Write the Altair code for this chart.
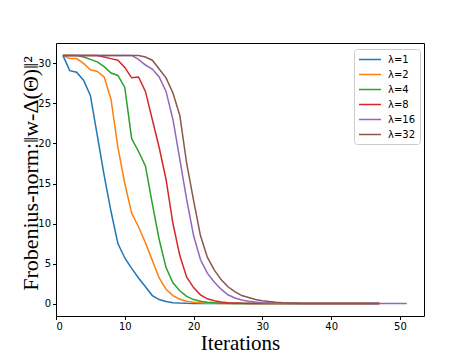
import altair as alt
import pandas as pd

labels = ["λ=1", "λ=2", "λ=4", "λ=8", "λ=16", "λ=32"]
colors = ["#1f77b4", "#ff7f0e", "#2ca02c", "#d62728", "#9467bd", "#8c564b"]

lam1 = [31, 29.1, 28.9, 27.9, 26.0, 21.0, 16.0, 11.5, 7.5, 5.7, 4.4, 3.2, 2.1, 1.0, 0.5, 0.25, 0.12, 0.06, 0.03, 0.02, 0.01]
lam2 = [31, 30.6, 30.6, 30.0, 29.2, 29.0, 28.3, 25.5, 19.5, 15.0, 11.3, 9.6, 7.6, 5.4, 3.2, 1.8, 1.0, 0.55, 0.3, 0.17, 0.1, 0.05, 0.03, 0.02, 0.01]
lam4 = [31, 31, 31, 30.8, 30.5, 30.2, 29.6, 28.8, 28.5, 27.0, 20.6, 19.0, 17.2, 12.5, 8.0, 4.5, 2.6, 1.6, 0.9, 0.5, 0.3, 0.17, 0.1, 0.05, 0.03, 0.02, 0.01]
lam8 = [31, 31, 31, 31, 31, 31, 30.8, 30.6, 30.4, 29.5, 28.2, 28.3, 26.5, 23.0, 19.5, 15.5, 10.0, 6.0, 3.3, 2.0, 1.1, 0.6, 0.35, 0.2, 0.1, 0.06, 0.03, 0.02, 0.01]
lam16 = [31, 31, 31, 31, 31, 31, 31, 31, 31, 31, 31, 30.5, 29.8, 29.3, 28.3, 26.5, 23.0, 18.0, 13.0, 8.5, 5.5, 3.8, 2.7, 1.8, 1.1, 0.7, 0.45, 0.3, 0.2, 0.12, 0.08, 0.05, 0.03, 0.02, 0.01]
lam32 = [31, 31, 31, 31, 31, 31, 31, 31, 31, 31, 31, 31, 30.8, 30.4, 29.3, 28.2, 26.3, 23.5, 17.5, 12.9, 8.5, 5.8, 4.2, 3.0, 2.1, 1.5, 1.0, 0.75, 0.5, 0.35, 0.25, 0.17, 0.11, 0.07, 0.04, 0.02, 0.01]
last_iter = [47, 47, 47, 47, 51, 47]

series = [lam1, lam2, lam4, lam8, lam16, lam32]
rows = []
for lab, vals, last in zip(labels, series, last_iter):
    for i in range(1, last + 1):
        v = vals[i - 1] if i <= len(vals) else 0.0
        rows.append({"lam": lab, "iter": i, "val": v})
df = pd.DataFrame(rows)

chart = alt.Chart(df).mark_line(strokeWidth=1.5).encode(
    x=alt.X("iter:Q", scale=alt.Scale(domain=[0, 53.5], nice=False, zero=False),
            axis=alt.Axis(title="Iterations", values=[0, 10, 20, 30, 40, 50], grid=False,
                          titleFont="Liberation Serif", titleFontSize=21, titleFontWeight="normal",
                          titleY=33.5, titleBaseline="alphabetic", titleColor="black",
                          labelFont="DejaVu Sans", labelFontSize=10, labelColor="black",
                          tickColor="black", tickSize=3.5, domain=False, labelPadding=2)),
    y=alt.Y("val:Q", scale=alt.Scale(domain=[-1.55, 32.55], nice=False, zero=False),
            axis=alt.Axis(title="Frobenius-norm:‖w-Δ(Θ)‖²", values=[0, 5, 10, 15, 20, 25, 30], grid=False,
                          titleFont="Liberation Serif", titleFontSize=22, titleFontWeight="normal",
                          titleX=-19, titleY=130, titleAngle=-90, titleAlign="center",
                          titleBaseline="alphabetic", titleColor="black",
                          labelFont="DejaVu Sans", labelFontSize=10, labelColor="black",
                          tickColor="black", tickSize=3.5, domain=False, labelPadding=2)),
    color=alt.Color("lam:N", sort=labels,
                    scale=alt.Scale(domain=labels, range=colors),
                    legend=alt.Legend(title=None, orient="none", legendX=298, legendY=6,
                                      symbolType="M-1,0H3", symbolSize=121, symbolStrokeWidth=1.5,
                                      labelOffset=17,
                                      labelFont="DejaVu Sans", labelFontSize=10, labelColor="black",
                                      strokeColor="#cccccc", cornerRadius=3, padding=4,
                                      fillColor="white", rowPadding=3.0)),
).properties(
    width=368, height=273,
    autosize=alt.AutoSizeParams(type="none"),
    padding={"left": 48, "top": 35, "right": 10, "bottom": 41},
).configure_view(stroke="black", strokeWidth=1)

chart.save("out.html", embed_options={"renderer": "svg", "actions": False})
